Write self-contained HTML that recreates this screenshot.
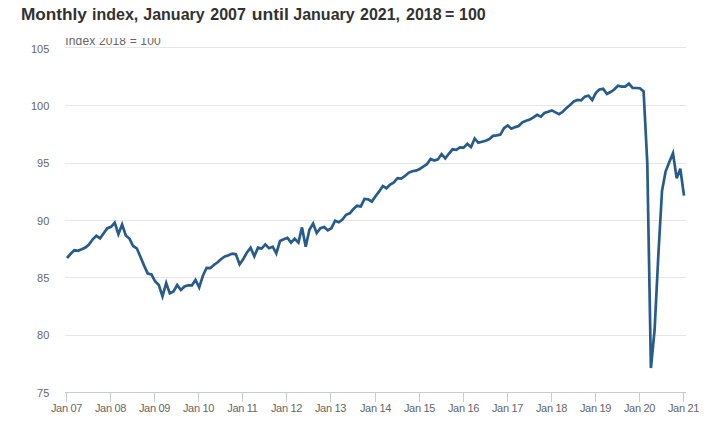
<!DOCTYPE html>
<html><head><meta charset="utf-8"><style>
html,body{margin:0;padding:0;background:#fff;width:721px;height:421px;overflow:hidden}
svg{position:absolute;left:0;top:0}
</style></head><body>
<svg width="721" height="421" viewBox="0 0 721 421">
<defs><clipPath id="cp"><rect x="0" y="38" width="721" height="383"/></clipPath></defs>
<g font-family="Liberation Sans" font-weight="bold" font-size="16" fill="#323132"><text x="20.9" y="19.6" textLength="66.0" lengthAdjust="spacingAndGlyphs">Monthly</text><text x="92.0" y="19.6">index,</text><text x="143.3" y="19.6">January</text><text x="210.3" y="19.6">2007</text><text x="251.7" y="19.6" textLength="37.2" lengthAdjust="spacingAndGlyphs">until</text><text x="293.3" y="19.6">January</text><text x="360.0" y="19.6">2021,</text><text x="406.0" y="19.6">2018</text><text x="445.0" y="19.6">=</text><text x="459.0" y="19.6">100</text></g>
<path d="M65 47.5H686" stroke="#e6e6e6" stroke-width="1"/><path d="M65 105.5H686" stroke="#e6e6e6" stroke-width="1"/><path d="M65 163.5H686" stroke="#e6e6e6" stroke-width="1"/><path d="M65 220.5H686" stroke="#e6e6e6" stroke-width="1"/><path d="M65 277.5H686" stroke="#e6e6e6" stroke-width="1"/><path d="M65 335.5H686" stroke="#e6e6e6" stroke-width="1"/><path d="M65 392.5H686" stroke="#c9cad8" stroke-width="1"/><path d="M66.5 392V402" stroke="#c9cad8" stroke-width="1"/><path d="M110.5 392V402" stroke="#c9cad8" stroke-width="1"/><path d="M154.5 392V402" stroke="#c9cad8" stroke-width="1"/><path d="M198.5 392V402" stroke="#c9cad8" stroke-width="1"/><path d="M242.5 392V402" stroke="#c9cad8" stroke-width="1"/><path d="M286.5 392V402" stroke="#c9cad8" stroke-width="1"/><path d="M330.5 392V402" stroke="#c9cad8" stroke-width="1"/><path d="M375.5 392V402" stroke="#c9cad8" stroke-width="1"/><path d="M419.5 392V402" stroke="#c9cad8" stroke-width="1"/><path d="M463.5 392V402" stroke="#c9cad8" stroke-width="1"/><path d="M507.5 392V402" stroke="#c9cad8" stroke-width="1"/><path d="M551.5 392V402" stroke="#c9cad8" stroke-width="1"/><path d="M595.5 392V402" stroke="#c9cad8" stroke-width="1"/><path d="M639.5 392V402" stroke="#c9cad8" stroke-width="1"/><path d="M683.5 392V402" stroke="#c9cad8" stroke-width="1"/>
<g clip-path="url(#cp)"><text x="65.3" y="45" font-family="Liberation Sans" font-size="12" fill="#666666" letter-spacing="0.15">Index 2018 = 100</text></g>
<g font-family="Liberation Sans" font-size="11" fill="#666666"><text x="49.3" y="53" text-anchor="end">105</text><text x="49.3" y="110" text-anchor="end">100</text><text x="49.3" y="167" text-anchor="end">95</text><text x="49.3" y="225" text-anchor="end">90</text><text x="49.3" y="282" text-anchor="end">85</text><text x="49.3" y="339" text-anchor="end">80</text><text x="49.3" y="397" text-anchor="end">75</text><text x="66.5" y="411.7" text-anchor="middle" letter-spacing="-0.3">Jan 07</text><text x="110.5" y="411.7" text-anchor="middle" letter-spacing="-0.3">Jan 08</text><text x="154.5" y="411.7" text-anchor="middle" letter-spacing="-0.3">Jan 09</text><text x="198.5" y="411.7" text-anchor="middle" letter-spacing="-0.3">Jan 10</text><text x="242.5" y="411.7" text-anchor="middle" letter-spacing="-0.3">Jan 11</text><text x="286.5" y="411.7" text-anchor="middle" letter-spacing="-0.3">Jan 12</text><text x="330.5" y="411.7" text-anchor="middle" letter-spacing="-0.3">Jan 13</text><text x="375.5" y="411.7" text-anchor="middle" letter-spacing="-0.3">Jan 14</text><text x="419.5" y="411.7" text-anchor="middle" letter-spacing="-0.3">Jan 15</text><text x="463.5" y="411.7" text-anchor="middle" letter-spacing="-0.3">Jan 16</text><text x="507.5" y="411.7" text-anchor="middle" letter-spacing="-0.3">Jan 17</text><text x="551.5" y="411.7" text-anchor="middle" letter-spacing="-0.3">Jan 18</text><text x="595.5" y="411.7" text-anchor="middle" letter-spacing="-0.3">Jan 19</text><text x="639.5" y="411.7" text-anchor="middle" letter-spacing="-0.3">Jan 20</text><text x="683.5" y="411.7" text-anchor="middle" letter-spacing="-0.3">Jan 21</text></g>
<polyline points="67.0,258 70.7,253.8 74.3,250.3 78.0,250.8 81.7,249.3 85.4,247.5 89.0,244.5 92.7,239.3 96.4,235.8 100.1,238.3 103.7,233.2 107.4,228.2 111.1,226.8 114.7,222.6 118.4,234.2 122.1,224.5 125.8,235.5 129.4,238.5 133.1,246 136.8,248.3 140.5,257 144.1,265.6 147.8,273.5 151.5,274.5 155.1,281.3 158.8,285 162.5,296.3 166.2,283 169.8,293.4 173.5,291.5 177.2,285 180.9,290 184.5,286.5 188.2,285.3 191.9,285.3 195.5,280 199.2,287.4 202.9,275.8 206.6,267.8 210.2,268 213.9,265 217.6,262.3 221.2,259 224.9,256.4 228.6,255.3 232.3,253.6 235.9,254.3 239.6,264.4 243.3,259 247.0,252.4 250.6,247.7 254.3,256.3 258.0,247.7 261.6,248.6 265.3,244.4 269.0,248.2 272.7,246.7 276.3,253.4 280.0,241 283.7,239.3 287.4,237.8 291.0,242.6 294.7,238.8 298.4,242.6 302.0,227.4 305.7,246.8 309.4,229.7 313.1,223.6 316.7,233 320.4,228.2 324.1,227.1 327.8,230.3 331.4,228.2 335.1,220.7 338.8,222.3 342.4,219.6 346.1,214.8 349.8,213.3 353.5,209 357.1,205.8 360.8,206.4 364.5,198.9 368.2,199.4 371.8,201.6 375.5,196.2 379.2,191.4 382.8,186 386.5,188.2 390.2,184.5 393.9,182.4 397.5,178.2 401.2,178.7 404.9,176 408.6,172.8 412.2,171.2 415.9,170.7 419.6,169.1 423.2,166.6 426.9,164.2 430.6,158.9 434.3,160.5 437.9,159.4 441.6,154.1 445.3,158.3 449.0,153.5 452.6,149.3 456.3,149.8 460.0,147.4 463.6,147.6 467.3,143.9 471.0,147.1 474.7,138.5 478.3,142.8 482.0,141.7 485.7,140.7 489.4,139.1 493.0,135.9 496.7,135.4 500.4,134.6 504.0,128.2 507.7,125.5 511.4,128.7 515.1,127.1 518.7,126 522.4,122.3 526.1,120.7 529.8,119.6 533.4,117.3 537.1,114.8 540.8,116.6 544.4,113 548.1,111.8 551.8,110.4 555.5,112.4 559.1,114.2 562.8,111.8 566.5,107.9 570.1,105 573.8,101.4 577.5,100 581.2,100.4 584.8,96.6 588.5,95.7 592.2,100 595.9,92.8 599.5,89.5 603.2,88.8 606.9,94 610.5,92 614.2,89.5 617.9,85.7 621.6,86.6 625.2,86.6 628.9,83.6 632.6,87.9 636.3,88 639.9,88.2 643.6,91.4 647.3,163 650.9,368 654.6,330 658.3,256 662.0,191 665.6,171.5 669.3,162 673.0,153.2 676.7,178.4 680.3,168.8 684.0,195.6" fill="none" stroke="#275b8b" stroke-width="2.7" stroke-linejoin="miter" stroke-linecap="butt"/>
</svg>
</body></html>
